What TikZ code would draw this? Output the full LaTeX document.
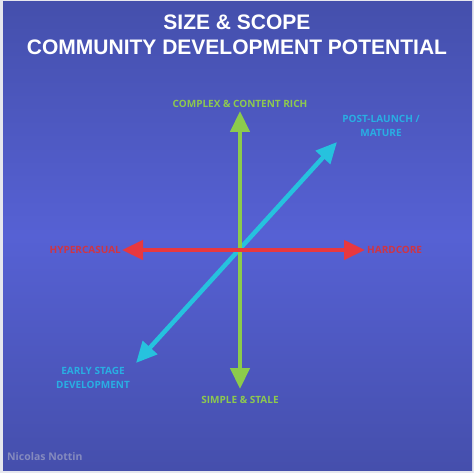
\documentclass[tikz,border=0pt]{standalone}
\usepackage{fontspec}
\setmainfont{Open Sans}
\newfontfamily\titlefont{Liberation Sans}
\usepackage{xcolor}
\definecolor{bgtop}{HTML}{3A4594}
\definecolor{bgmid}{HTML}{5661D4}
\definecolor{bgbot}{HTML}{3B4494}
\definecolor{bgedge}{HTML}{E6E7EE}
\definecolor{axisgreen}{HTML}{8CCB4C}
\definecolor{axisred}{HTML}{E8383F}
\definecolor{axiscyan}{HTML}{26C2DE}
\definecolor{labelgreen}{HTML}{8DC94F}
\definecolor{labelcyan}{HTML}{29AEE3}
\definecolor{labelred}{HTML}{CF3545}
\definecolor{signgrey}{HTML}{858ABE}
\usetikzlibrary{arrows.meta,positioning}
\pgfdeclareverticalshading{bgshade}{100bp}{color(0bp)=(bgbot); color(22bp)=(bgbot!70!bgmid); color(50bp)=(bgmid); color(78bp)=(bgtop!70!bgmid); color(100bp)=(bgtop)}

\begin{document}
\begin{tikzpicture}[
    x=1pt, y=-1pt,
    axisline/.style={line width=4.5pt, {Triangle[width=19pt,length=21pt]}-{Triangle[width=19pt,length=21pt]}},
    axislabel/.style={font=\fontsize{10}{14.5}\selectfont\bfseries, inner sep=0pt, align=center},
    titletext/.style={font=\titlefont\fontsize{21}{25}\selectfont\bfseries, text=white, align=center, inner sep=0pt},
  ]
    \useasboundingbox (0,0) rectangle (474,473);
    \fill[bgedge] (0,0) rectangle (474,473);
    \shade[shading=bgshade] (3,2) rectangle (472,470);

    % title
    \node[titletext] (title) at (237,35) {SIZE \& SCOPE\\COMMUNITY DEVELOPMENT POTENTIAL};

    % axis ends
    \coordinate (complex) at (240,111);
    \coordinate (simple) at (240,389);
    \coordinate (hyper) at (122,250);
    \coordinate (hard) at (365,250);
    \coordinate (early) at (136,363);
    \coordinate (mature) at (337,142);

    % axes
    \draw[axisline, axiscyan] (early) -- (mature);
    \draw[axisline, axisgreen] (simple) -- (complex);
    \draw[axisline, axisred] (hyper) -- (hard);

    % labels
    \node[axislabel, text=labelgreen, anchor=south] (complexlbl) at (240,108) {COMPLEX \& CONTENT RICH};
    \node[axislabel, text=labelgreen, anchor=north] (simplelbl) at (240,396) {SIMPLE \& STALE};
    \node[axislabel, text=labelred, anchor=east] (hyperlbl) at (121,250) {HYPERCASUAL};
    \node[axislabel, text=labelred, anchor=west] (hardlbl) at (367,250) {HARDCORE};
    \node[axislabel, text=labelcyan] (maturelbl) at (381,126) {POST-LAUNCH /\\MATURE};
    \node[axislabel, text=labelcyan] (earlylbl) at (93,378) {EARLY STAGE\\DEVELOPMENT};

    % signature
    \node[font=\fontsize{10.5}{12}\selectfont\bfseries, text=signgrey, anchor=west, inner sep=0pt] (sign) at (7,457) {Nicolas Nottin};
  \end{tikzpicture}
\end{document}
